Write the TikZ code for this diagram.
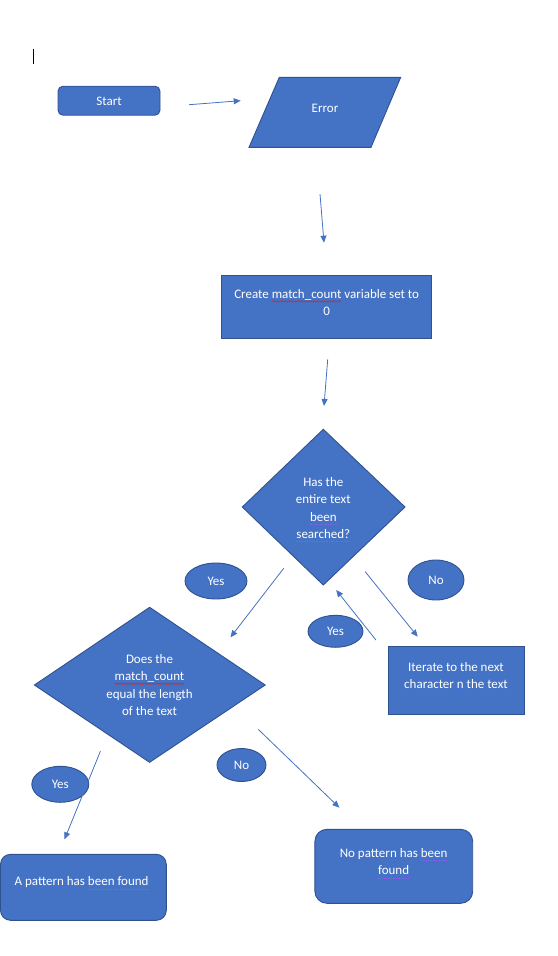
\documentclass[tikz,border=0pt]{standalone}
\usepackage{fontspec}
\setmainfont{Carlito}
\usetikzlibrary{arrows.meta,shapes.geometric,decorations.pathmorphing}
\definecolor{wblue}{HTML}{4472C4}
\definecolor{wedge}{HTML}{2F528F}
\definecolor{spellred}{HTML}{E02020}
\definecolor{spellpurple}{HTML}{8A5CF0}
\definecolor{spellblue}{HTML}{3A6FE0}
\newlength\ulw
\newcommand\wavyul[1]{\settowidth\ulw{#1}\rlap{\tikz[overlay]\draw[spellred,line width=0.5pt,decorate,decoration={snake,amplitude=0.7pt,segment length=2.6pt}] (0pt,-3pt) -- (\ulw,-3pt);}#1}
\newcommand\dotul[1]{\settowidth\ulw{#1}\rlap{\tikz[overlay]\draw[spellpurple,line width=0.8pt,dash pattern=on 1.5pt off 1pt] (0pt,-3.2pt) -- (\ulw,-3.2pt);}#1}
\newcommand\blueul[1]{\settowidth\ulw{#1}\rlap{\tikz[overlay]\draw[spellblue,line width=0.8pt] (0pt,-3.2pt) -- (\ulw,-3.2pt);}#1}
\begin{document}
\begin{tikzpicture}[x=1pt,y=-1pt,
  shapebox/.style={fill=wblue,draw=wedge,line width=0.9pt,inner sep=0pt},
  lbl/.style={text=white,font=\fontsize{13}{17.4}\selectfont,align=center,inner sep=0pt},
  flow/.style={draw=wblue,line width=0.8pt,-{Triangle[length=7pt,width=6pt]}},
  oval/.style={ellipse,fill=wblue,draw=wedge,line width=0.9pt,inner sep=0pt,text=white,font=\fontsize{13}{17.4}\selectfont}]
\useasboundingbox (0,0) rectangle (557,956);
% text cursor
\draw[line width=0.9pt] (33,49) -- (33,64);

% Start
\node[shapebox,rounded corners=5pt,minimum width=102pt,minimum height=29pt] (start) at (109,100.7) {};
\node[lbl] (startT) at (109,101) {Start};

% Error (parallelogram)
\draw[shapebox] (279.3,77.3) -- (400.7,77.3) -- (371,147.3) -- (249,147.3) -- cycle;
\node[lbl] (error) at (325,108.3) {Error};

% Create
\node[shapebox,minimum width=210.4pt,minimum height=63.7pt] (create) at (326.5,306.9) {};
\node[lbl] (createT) at (326.7,302.6) {Create \wavyul{match\_count} variable set to\\0};

% Decision 1
\draw[shapebox] (323.3,429.3) -- (405,507) -- (323.3,585) -- (242.3,507) -- cycle;
\node[lbl] (dec1) at (323.3,508) {Has the\\entire text\\\dotul{been}\\\dotul{searched?}};

% Decision 2
\draw[shapebox] (149.6,607.3) -- (265.2,685) -- (149.6,762.3) -- (34.4,685) -- cycle;
\node[lbl] (dec2) at (149.5,685) {Does the\\\wavyul{match\_count}\\equal the length\\of the text};

% Iterate
\node[shapebox,minimum width=136.1pt,minimum height=68pt] (iter) at (456.75,680.3) {};
\node[lbl] (iterT) at (456,675.7) {Iterate to the next\\character \blueul{n} the text};

% A pattern found
\node[shapebox,rounded corners=10pt,minimum width=165.8pt,minimum height=66pt] (found) at (83.4,887.3) {};
\node[lbl] (foundT) at (81.6,882.3) {A pattern has \dotul{been found}};

% No pattern
\node[shapebox,rounded corners=12pt,minimum width=157.8pt,minimum height=74pt] (notfound) at (393.8,866.3) {};
\node[lbl] (notfoundT) at (393.6,861.6) {No pattern has \dotul{been}\\\dotul{found}};

% Labels (ovals)
\node[oval,minimum width=62pt,minimum height=36pt] (yes1) at (216,581) {Yes};
\node[oval,minimum width=56pt,minimum height=40pt] (no1) at (436,580) {No};
\node[oval,minimum width=55pt,minimum height=32pt] (yes2) at (335.5,631.3) {Yes};
\node[oval,minimum width=49pt,minimum height=33pt] (no2) at (241.5,765) {No};
\node[oval,minimum width=57pt,minimum height=36pt] (yes3) at (60.3,784.3) {Yes};

% connector end points
\coordinate (a1s) at (189,104.7);   \coordinate (a1e) at (240.7,100.7);
\coordinate (a2s) at (320,194);     \coordinate (a2e) at (324,242.7);
\coordinate (a3s) at (327.7,359.3); \coordinate (a3e) at (324,406);
\coordinate (a4s) at (283.7,568.3); \coordinate (a4e) at (230.5,637.3);
\coordinate (a5s) at (365.2,571.7); \coordinate (a5e) at (417.7,636.7);
\coordinate (a6s) at (375.9,640);   \coordinate (a6e) at (336.2,590);
\coordinate (a7s) at (100.4,751.3); \coordinate (a7e) at (64.5,839.3);
\coordinate (a8s) at (258.2,729.3); \coordinate (a8e) at (339.4,807.7);

\draw[flow] (a1s) -- (a1e);
\draw[flow] (a2s) -- (a2e);
\draw[flow] (a3s) -- (a3e);
\draw[flow] (a4s) -- (a4e);
\draw[flow] (a5s) -- (a5e);
\draw[flow] (a6s) -- (a6e);
\draw[flow] (a7s) -- (a7e);
\draw[flow] (a8s) -- (a8e);
\end{tikzpicture}
\end{document}
